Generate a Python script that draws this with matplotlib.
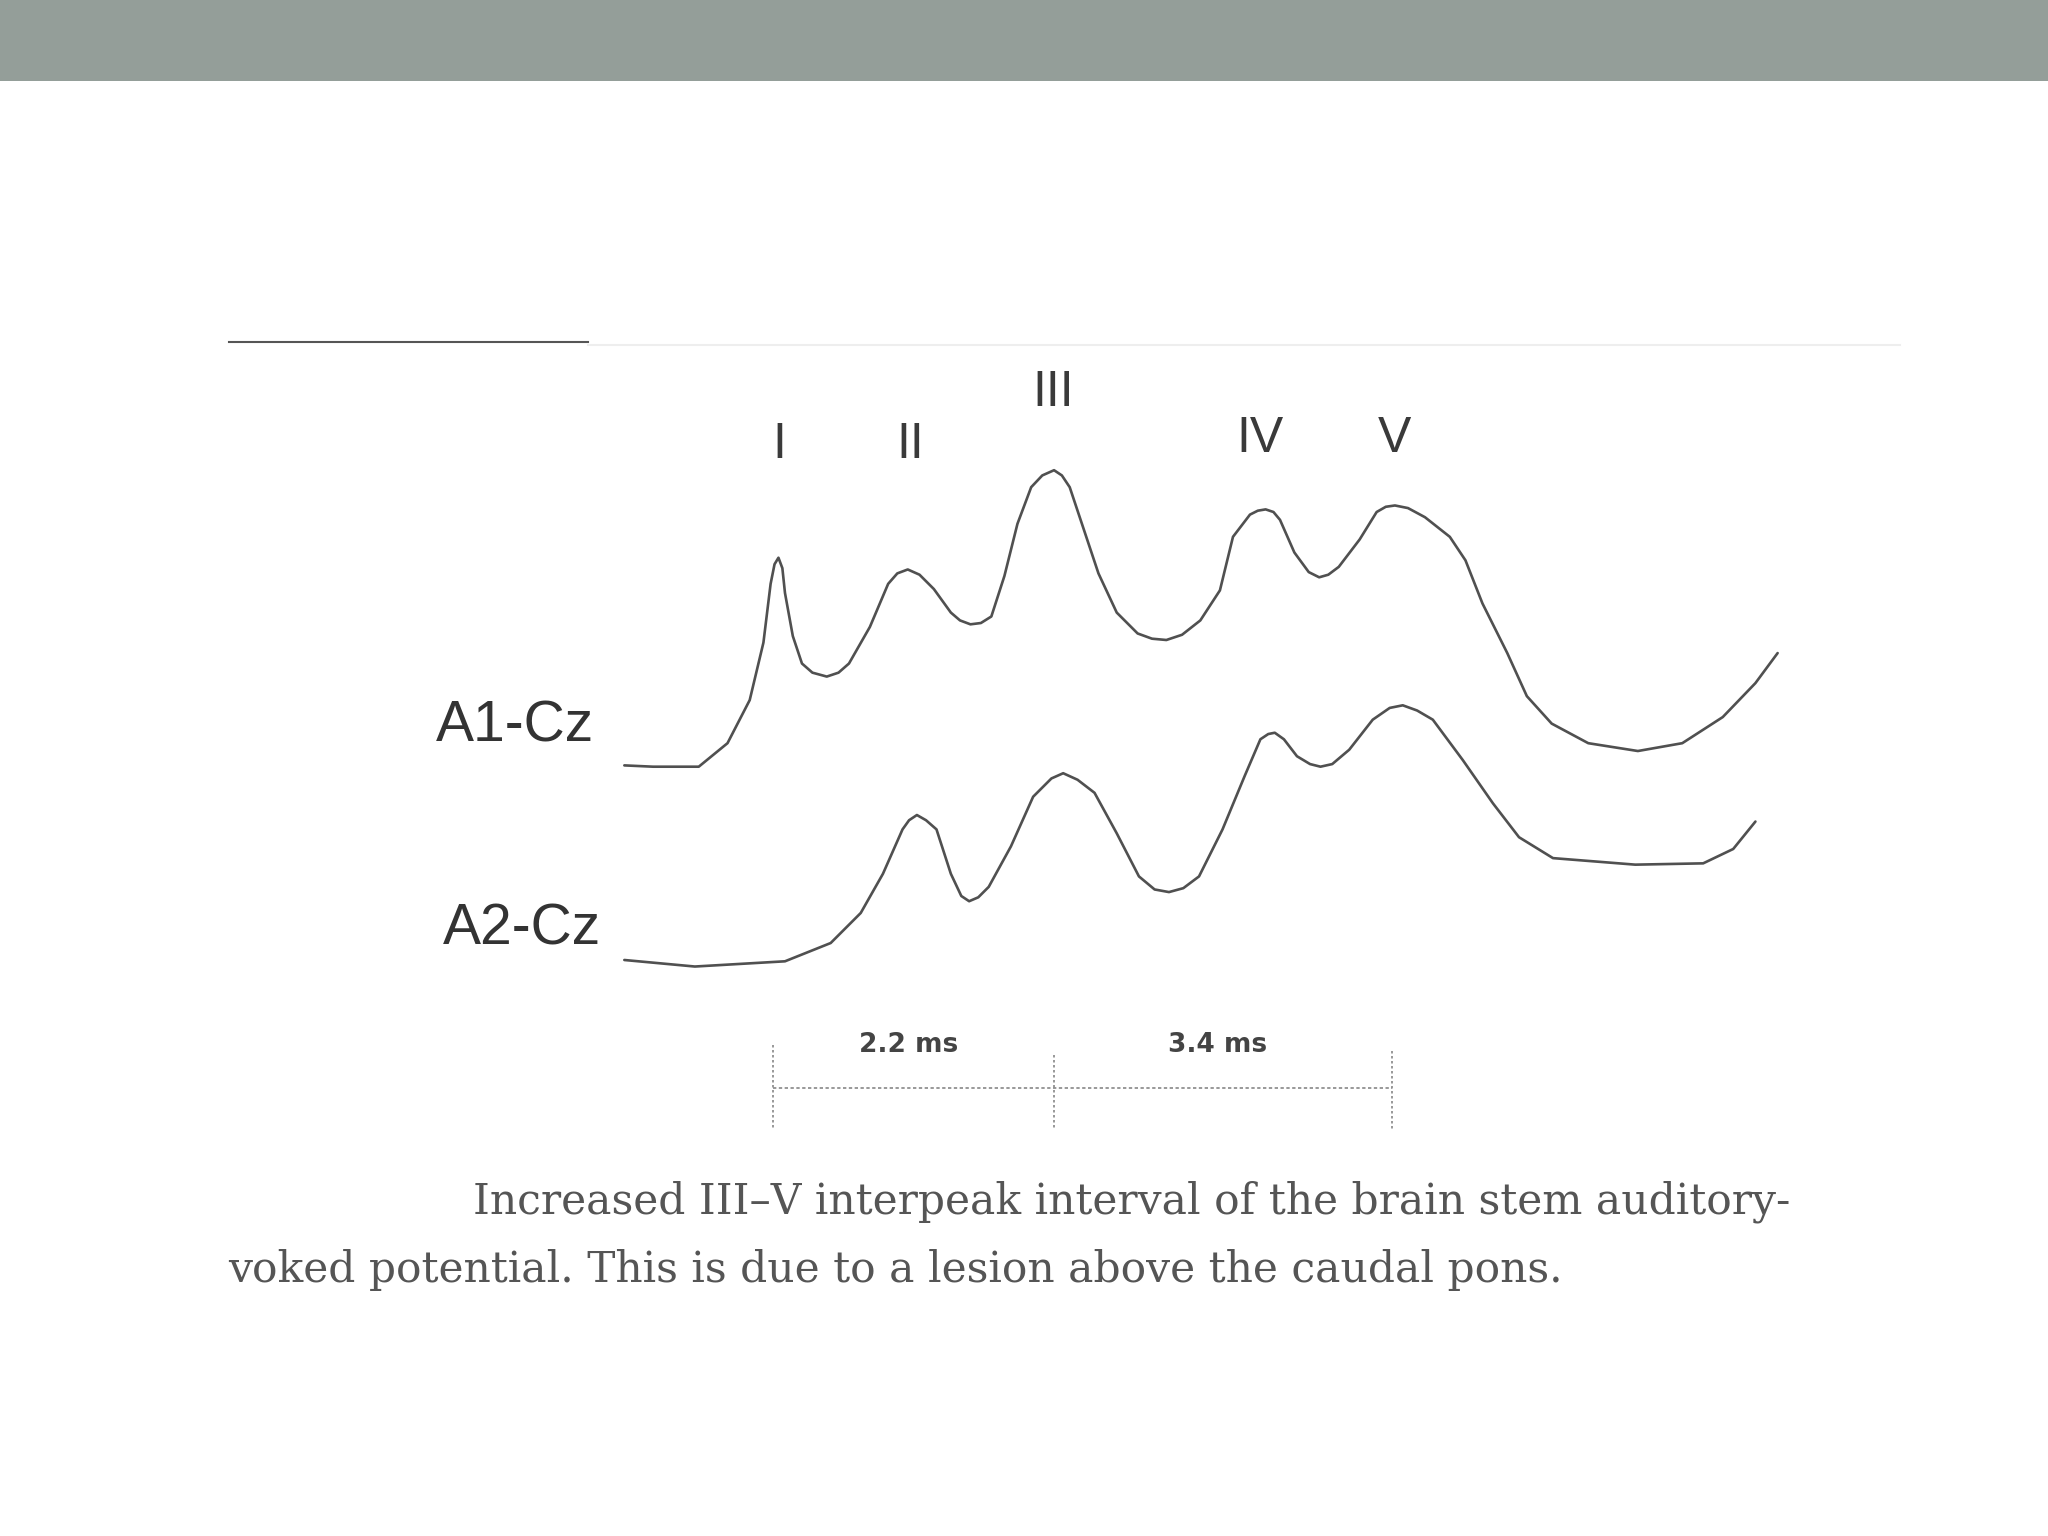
import matplotlib.pyplot as plt
from matplotlib.patches import Rectangle

# brain stem auditory evoked potential, two channels (time in ms, amplitude in arbitrary units)
a1_t = [0, 0.22, 0.57, 0.79, 0.96, 1.065, 1.12, 1.15, 1.18, 1.21, 1.23, 1.29, 1.36, 1.44, 1.55, 1.64,
        1.72, 1.88, 2.02, 2.09, 2.17, 2.26, 2.37, 2.50, 2.57, 2.65, 2.73, 2.81, 2.91, 3.01, 3.115,
        3.20, 3.29, 3.35, 3.41, 3.52, 3.63, 3.77, 3.93, 4.04, 4.15, 4.27, 4.41, 4.56, 4.66, 4.79,
        4.85, 4.91, 4.97, 5.02, 5.13, 5.24, 5.32, 5.39, 5.47, 5.63, 5.76, 5.83, 5.90, 6.00, 6.13,
        6.32, 6.44, 6.57, 6.76, 6.91, 7.10, 7.38, 7.76, 8.10, 8.41, 8.66, 8.83]
a1_v = [0.01, 0, 0, 0.18, 0.51, 0.95, 1.40, 1.55, 1.60, 1.52, 1.33, 1.00, 0.79, 0.72, 0.69, 0.72,
        0.79, 1.07, 1.40, 1.48, 1.51, 1.47, 1.36, 1.18, 1.12, 1.09, 1.10, 1.15, 1.46, 1.86, 2.14,
        2.23, 2.27, 2.23, 2.14, 1.81, 1.48, 1.18, 1.02, 0.98, 0.97, 1.01, 1.12, 1.35, 1.76, 1.93,
        1.96, 1.97, 1.95, 1.89, 1.64, 1.49, 1.45, 1.47, 1.53, 1.74, 1.95, 1.99, 2.00, 1.98, 1.91,
        1.76, 1.58, 1.25, 0.87, 0.54, 0.33, 0.18, 0.12, 0.18, 0.38, 0.64, 0.87]

a2_t = [0, 0.54, 1.23, 1.58, 1.81, 1.98, 2.13, 2.18, 2.24, 2.31, 2.39, 2.50, 2.58, 2.64, 2.71, 2.79,
        2.96, 3.13, 3.27, 3.36, 3.47, 3.60, 3.77, 3.94, 4.06, 4.17, 4.28, 4.40, 4.58, 4.75, 4.87,
        4.93, 4.98, 5.05, 5.15, 5.25, 5.33, 5.42, 5.55, 5.73, 5.86, 5.96, 6.07, 6.19, 6.42, 6.65,
        6.85, 7.11, 7.74, 8.26, 8.49, 8.66]
a2_v = [0.03, -0.02, 0.02, 0.16, 0.39, 0.69, 1.03, 1.10, 1.14, 1.10, 1.03, 0.69, 0.52, 0.48, 0.51, 0.59,
        0.90, 1.28, 1.42, 1.46, 1.41, 1.31, 1.00, 0.67, 0.57, 0.55, 0.58, 0.67, 1.03, 1.44, 1.72,
        1.76, 1.77, 1.72, 1.59, 1.53, 1.51, 1.53, 1.64, 1.87, 1.96, 1.98, 1.94, 1.87, 1.56, 1.23,
        0.97, 0.81, 0.76, 0.77, 0.88, 1.09]

channels = ['A1-Cz', 'A2-Cz']
offsets = [0, -1.51]

peak_names = ['I', 'II', 'III', 'IV', 'V']
peak_t = [1.19, 2.19, 3.28, 4.87, 5.90]
peak_y = [2.46, 2.46, 2.86, 2.51, 2.51]

# interpeak intervals I-III and III-V
bar_t = [1.14, 3.29, 5.88]
intervals = ['2.2 ms', '3.4 ms']

caption1 = 'Increased III\u2013V interpeak interval of the brain stem auditory-'
caption2 = 'voked potential. This is due to a lesion above the caudal pons.'

W, H = 1568, 1176
fig = plt.figure(figsize=(20.48, 15.36), dpi=100)
fig.patch.set_facecolor('white')

# banner
fig.patches.append(Rectangle((0, 1 - 62 / H), 1, 62 / H, transform=fig.transFigure,
                             facecolor='#949e99', edgecolor='none'))

ax = fig.add_axes([0, 0, 1, 1])
ax.set_xlim(-4.78, 10.90)
ax.set_ylim(-5.89, 5.87)
ax.axis('off')

lc = '#505050'
ax.plot(a1_t, [v + offsets[0] for v in a1_v], color=lc, lw=1.9,
        solid_joinstyle='round', solid_capstyle='round')
ax.plot(a2_t, [v + offsets[1] for v in a2_v], color=lc, lw=1.9,
        solid_joinstyle='round', solid_capstyle='round')

for name, t, y in zip(peak_names, peak_t, peak_y):
    ax.text(t, y, name, ha='center', va='center', fontsize=36, color='#3a3a3a',
            family='Liberation Sans')

# channel labels
fig.text(455 / W, 1 - 556 / H, channels[0], ha='right', va='center', fontsize=41,
         color='#333333', family='Liberation Sans')
fig.text(460 / W, 1 - 712 / H, channels[1], ha='right', va='center', fontsize=41,
         color='#333333', family='Liberation Sans')

# scale bar
bar_y = -2.46
ax.plot([bar_t[0], bar_t[-1]], [bar_y, bar_y], color='#888888', lw=1.2, ls=(0, (2, 1.5)))
tick_top = [-2.13, -2.21, -2.18]
for t, top in zip(bar_t, tick_top):
    ax.plot([t, t], [top, -2.78], color='#888888', lw=1.2, ls=(0, (1.5, 1.5)))
for i, lab in enumerate(intervals):
    mid = (bar_t[i] + bar_t[i + 1]) / 2
    ax.text(mid - 0.04, -2.13, lab, ha='center', va='center', fontsize=19, color='#444444',
            family='DejaVu Sans', fontweight='bold')

# page rule from the scanned figure
fig.add_artist(plt.Line2D([175 / W, 450 / W], [1 - 262 / H, 1 - 262 / H], color='#555555', lw=1.5))
fig.add_artist(plt.Line2D([450 / W, 1455 / W], [1 - 264 / H, 1 - 264 / H], color='#eeeeee', lw=1.5))

fig.text(362 / W, 1 - 920 / H, caption1, ha='left', va='center', fontsize=30.5,
         color='#555555', family='DejaVu Serif')
fig.text(175 / W, 1 - 972 / H, caption2, ha='left', va='center', fontsize=30.5,
         color='#555555', family='DejaVu Serif')

fig.savefig('out.png', dpi=100, facecolor='white')
